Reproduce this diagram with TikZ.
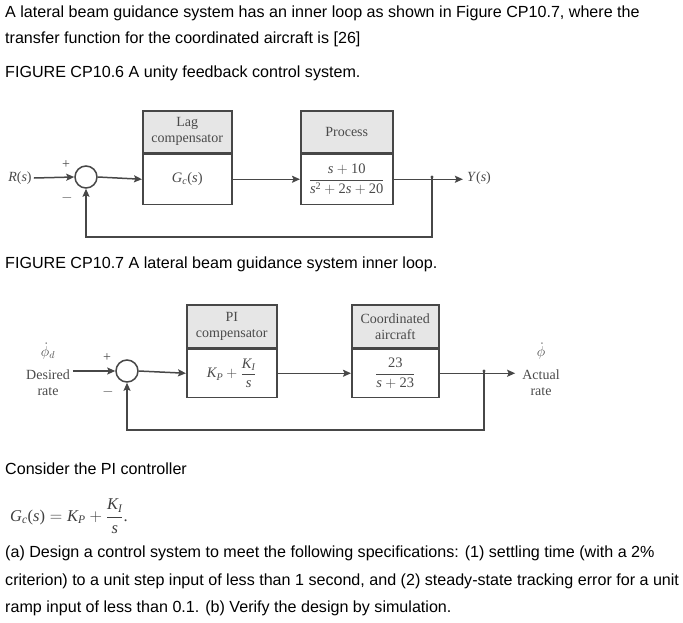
\documentclass[tikz,border=0pt]{standalone}
\usepackage{amsmath}
\usepackage{fontspec}
\setmainfont{Liberation Serif}
\newfontfamily\arial{Liberation Sans}
\usetikzlibrary{arrows.meta,calc}
\definecolor{lc}{HTML}{474747}
\definecolor{tc}{HTML}{4A4A4A}
\definecolor{hg}{HTML}{E6E6E6}
\newcommand\vi[1]{\textit{#1}}
\newcommand\vn[1]{\text{#1}}
\begin{document}
\begin{tikzpicture}[x=1pt,y=-1pt,
  txt/.style={anchor=west, inner sep=0pt, font=\arial\fontsize{16.1}{19}\selectfont},
  lbl/.style={inner sep=0pt, text=tc, font=\fontsize{14}{18}\selectfont},
  mth/.style={font=\fontsize{14.5}{18}\selectfont},
  hdr/.style={lbl, draw=lc, line width=1.5pt, fill=hg, anchor=north west, align=center, minimum height=42pt},
  bodyb/.style={lbl, mth, draw=lc, line width=1.5pt, fill=white, anchor=north west, align=center, minimum height=50pt},
  sumc/.style={circle, draw=lc, line width=1.5pt, minimum size=22pt, inner sep=0pt},
  sig/.style={draw=lc, line width=1.5pt, -{Stealth[length=8pt,width=7pt,inset=1.5pt]}},
  sgn/.style={lbl, font=\fontsize{14}{14}\selectfont}
]
\useasboundingbox (0,0) rectangle (683,622);

% ---- text ----
\node[txt] (t1) at (5,13) {A lateral beam guidance system has an inner loop as shown in Figure CP10.7, where the};
\node[txt] (t2) at (5,39) {transfer function for the coordinated aircraft is [26]};
\node[txt] (t3) at (5,73) {FIGURE CP10.6 A unity feedback control system.};
\node[txt] (t4) at (5,264) {FIGURE CP10.7 A lateral beam guidance system inner loop.};
\node[txt] (t5) at (5,469) {Consider the PI controller};
\node[txt] (t6) at (5,553) {(a) Design a control system to meet the following specifications: (1) settling time (with a 2\%};
\node[txt] (t7) at (5,581) {criterion) to a unit step input of less than 1 second, and (2) steady-state tracking error for a unit};
\node[txt] (t8) at (5,608) {ramp input of less than 0.1. (b) Verify the design by simulation.};
\node[anchor=west, inner sep=0pt, text=black!75, font=\fontsize{16.5}{19}\selectfont] (eq) at (10,516)
  {$\vi{G}_{\vi{c}}\vn{(}\vi{s}\vn{)} = \vi{K}_{\vi{P}} + \dfrac{\vi{K}_{\vi{I}}}{\vi{s}}\vn{.}$};

% ---- figure CP10.6 ----
\node[hdr, minimum width=89pt] (lagh) at (142,110) {Lag\\[-2pt]compensator};
\node[bodyb, minimum width=89pt] (lagb) at (lagh.south west) {$\vi{G}_{\vi{c}}\vn{(}\vi{s}\vn{)}$};
\node[hdr, minimum width=92pt] (proh) at (300,110) {Process};
\node[bodyb, minimum width=92pt] (prob) at (proh.south west)
  {$\dfrac{\vi{s} + \vn{10}}{\vi{s}^{\vn{2}} + \vn{2}\vi{s} + \vn{20}}$};
\node[sumc] (sum1) at (86,177) {};
\node[lbl] (R) at (20,178) {\vi{R}(\vi{s})};
\node[lbl] (Y) at (479,178) {\vi{Y}(\vi{s})};
\node[sgn] (p1) at (66,165) {+};
\node[sgn] (m1) at (67,198) {$-$};
\coordinate (br1) at (432,177);
\coordinate (fb1) at (432,237);
\draw[sig] (R.east) ++(2,0) -- (sum1.west);
\draw[sig] (sum1.east) -- (lagb.west);
\draw[sig] (lagb.east) -- (prob.west);
\draw[sig, shorten >=4pt] (prob.east) -- (Y.west |- prob.east);
\draw[sig] (br1) -- (fb1) -| (sum1.south);
\fill[lc] (br1) circle (1.6pt);

% ---- figure CP10.7 ----
\node[hdr, minimum width=90pt, minimum height=43pt] (pih) at (186,304) {PI\\[-2pt]compensator};
\node[bodyb, minimum width=90pt, minimum height=48pt] (pib) at (pih.south west)
  {$\vi{K}_{\vi{P}} + \dfrac{\vi{K}_{\vi{I}}}{\vi{s}}$};
\node[hdr, minimum width=87pt, minimum height=43pt] (cah) at (351,304) {Coordinated\\[-2pt]aircraft};
\node[bodyb, minimum width=87pt, minimum height=48pt] (cab) at (cah.south west)
  {$\dfrac{\vn{23}}{\vi{s} + \vn{23}}$};
\node[sumc] (sum2) at (127,371) {};
\node[lbl, mth] (phid) at (48,351) {$\dot{\phi}_{d}$};
\node[lbl] (des) at (48,375) {Desired};
\node[lbl] (rt1) at (48,392) {rate};
\node[lbl, mth] (phi) at (541,351) {$\dot{\phi}$};
\node[lbl] (act) at (541,375) {Actual};
\node[lbl] (rt2) at (541,392) {rate};
\node[sgn] (p2) at (107,358) {+};
\node[sgn] (m2) at (108,392) {$-$};
\coordinate (br2) at (484,371);
\coordinate (fb2) at (484,430);
\draw[sig] (des.east |- sum2.west) ++(3,0) -- (sum2.west);
\draw[sig] (sum2.east) -- (pib.west);
\draw[sig] (pib.east) -- (cab.west);
\draw[sig, shorten >=7pt] (cab.east) -- (act.west |- cab.east);
\draw[sig] (br2) -- (fb2) -| (sum2.south);
\fill[lc] (br2) circle (1.6pt);
\end{tikzpicture}
\end{document}
